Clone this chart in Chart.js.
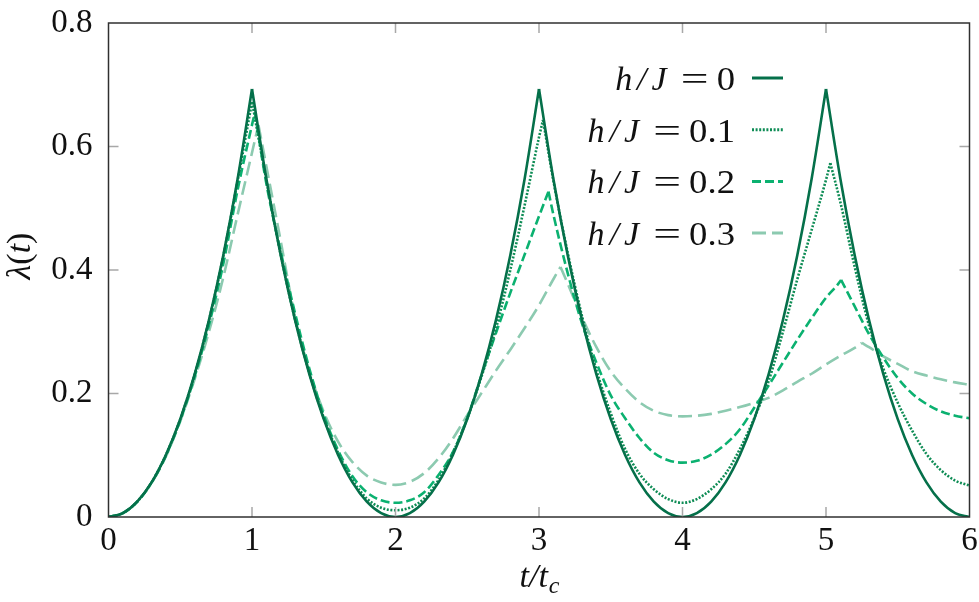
<!DOCTYPE html>
<html>
<head>
<meta charset="utf-8">
<script src="https://cdn.jsdelivr.net/npm/chart.js@4.4.1/dist/chart.umd.min.js"></script>
<style>
  html, body { margin: 0; padding: 0; background: #fff; }
  #wrap { width: 979px; height: 602px; }
</style>
</head>
<body>
<div id="wrap"><canvas id="rateChart" width="979" height="602"></canvas></div>
<script>
// time grid t/t_c
const tGrid = [0, 0.1, 0.2, 0.3, 0.4, 0.5, 0.6, 0.7, 0.8, 0.9, 1.0,
  1.1, 1.2, 1.3, 1.4, 1.5, 1.6, 1.7, 1.8, 1.9, 2.0,
  2.1, 2.2, 2.3, 2.4, 2.5, 2.6, 2.7, 2.8, 2.9, 3.0,
  3.1, 3.2, 3.3, 3.4, 3.5, 3.6, 3.7, 3.8, 3.9, 4.0,
  4.1, 4.2, 4.3, 4.4, 4.5, 4.6, 4.7, 4.8, 4.9, 5.0,
  5.1, 5.2, 5.3, 5.4, 5.5, 5.6, 5.7, 5.8, 5.9, 6.0];

// lambda(t), h/J = 0, 0.1, 0.2, 0.3
const lam00 = [0, .0062, .0248, .0560, .1004, .1584, .2308, .3188, .4239, .5478, .6931,
  .5478, .4239, .3188, .2308, .1584, .1004, .0560, .0248, .0062, 0,
  .0062, .0248, .0560, .1004, .1584, .2308, .3188, .4239, .5478, .6931,
  .5478, .4239, .3188, .2308, .1584, .1004, .0560, .0248, .0062, 0,
  .0062, .0248, .0560, .1004, .1584, .2308, .3188, .4239, .5478, .6931,
  .5478, .4239, .3188, .2308, .1584, .1004, .0560, .0248, .0062, 0];
const lam01 = [0, .0062, .0248, .0560, .1004, .1584, .2306, .3182, .4225, .5445, .672,
  .546, .425, .320, .233, .161, .104, .060, .030, .015, .011,
  .015, .030, .060, .104, .160, .228, .305, .400, .505, .615,
  .545, .428, .325, .238, .168, .110, .070, .045, .029, .023,
  .029, .045, .070, .110, .160, .220, .300, .385, .465, .546,
  .510, .405, .310, .240, .185, .140, .102, .076, .059, .051];
const lam02 = [0, .0062, .0247, .0556, .0995, .1565, .227, .311, .410, .530, .635,
  .540, .430, .330, .240, .165, .108, .066, .040, .027, .023,
  .027, .040, .068, .105, .160, .230, .298, .363, .425, .487,
  .490, .395, .313, .250, .197, .160, .128, .104, .092, .088,
  .091, .101, .118, .142, .177, .213, .250, .287, .322, .355,
  .382, .341, .296, .258, .225, .200, .183, .171, .164, .160];
const lam03 = [0, .0062, .0246, .055, .098, .155, .223, .300, .388, .490, .590,
  .568, .447, .324, .236, .170, .122, .089, .067, .056, .052,
  .057, .071, .095, .127, .165, .201, .237, .271, .306, .343,
  .385, .378, .323, .275, .236, .208, .186, .172, .165, .163,
  .164, .167, .172, .178, .185, .193, .205, .219, .232, .247,
  .261, .274, .275, .260, .248, .236, .229, .223, .218, .214];

// cusps (the peaks move right and drop as h grows)
const cuspT00 = [1, 3, 5];
const cuspL00 = [0.6931, 0.6931, 0.6931];
const cuspT01 = [1, 3.028, 5.03];
const cuspL01 = [0.672, 0.643, 0.573];
const cuspT02 = [1.02, 3.066, 5.105];
const cuspL02 = [0.655, 0.527, 0.384];
const cuspT03 = [1.045, 3.15, 5.25];
const cuspL03 = [0.635, 0.405, 0.282];

const legendValues = ['0', '0.1', '0.2', '0.3'];
const xTicks = [0, 1, 2, 3, 4, 5, 6];
const yTicks = [0, 0.2, 0.4, 0.6, 0.8];

const colors = ['#05704a', '#0e8c55', '#0bb170', '#8ccab0'];
const dashes = [[], [2, 1.6], [9, 4], [14, 6]];

// split a curve at its cusps so every smooth arc is its own piece
function buildPieces(vals, cuspT, cuspL) {
    var pts = [];
    tGrid.forEach(function(t, i) {
        var isCusp = cuspT.some(function(c) { return Math.abs(c - t) < 1e-9; });
        if (!isCusp) pts.push({ x: t, y: vals[i], cusp: false });
    });
    cuspT.forEach(function(t, i) { pts.push({ x: t, y: cuspL[i], cusp: true }); });
    pts.sort(function(a, b) { return a.x - b.x; });

    var pieces = [], cur = [];
    pts.forEach(function(p) {
        cur.push({ x: p.x, y: p.y });
        if (p.cusp) {
            pieces.push(cur);
            cur = [{ x: p.x, y: p.y }];
        }
    });
    if (cur.length > 1) pieces.push(cur);
    return pieces;
}

const FONT = '"Liberation Serif", "DejaVu Serif", serif';

// draw text centred in a fixed-width slot (mimics math spacing)
function slotText(ctx, txt, font, x, w, y, sx) {
    ctx.font = font;
    var tw = ctx.measureText(txt).width * (sx || 1);
    ctx.save();
    ctx.translate(x + (w - tw) / 2, y);
    ctx.scale(sx || 1, 1);
    ctx.fillText(txt, 0, 0);
    ctx.restore();
}

// frame, inward ticks, legend and axis titles drawn gnuplot style
const gnuplotDecor = {
    id: 'gnuplotDecor',
    afterDraw: function(chart) {
        var ctx = chart.ctx;
        var a = chart.chartArea;
        var xs = chart.scales.x, ys = chart.scales.y;
        ctx.save();

        ctx.strokeStyle = '#a8a8a8';
        ctx.lineWidth = 1.5;
        xTicks.forEach(function(v) {
            if (v === 0 || v === 6) return;
            var px = xs.getPixelForValue(v);
            ctx.beginPath();
            ctx.moveTo(px, a.bottom); ctx.lineTo(px, a.bottom - 10);
            ctx.moveTo(px, a.top); ctx.lineTo(px, a.top + 10);
            ctx.stroke();
        });
        yTicks.forEach(function(v) {
            if (v === 0 || v === 0.8) return;
            var py = ys.getPixelForValue(v);
            ctx.beginPath();
            ctx.moveTo(a.left, py); ctx.lineTo(a.left + 10, py);
            ctx.moveTo(a.right, py); ctx.lineTo(a.right - 10, py);
            ctx.stroke();
        });

        ctx.strokeStyle = '#303030';
        ctx.lineWidth = 1.5;
        ctx.strokeRect(a.left, a.top, a.right - a.left, a.bottom - a.top);

        // legend: text right aligned, sample to the right
        var rightEdge = 735, rowY = 78, rowGap = 51.7;
        var itf = 'italic 34px ' + FONT, upf = '34px ' + FONT;
        ctx.textBaseline = 'alphabetic';
        ctx.fillStyle = '#111';
        legendValues.forEach(function(val, i) {
            var y = rowY + i * rowGap;
            var base = y + 12;
            ctx.font = upf;
            var wv = ctx.measureText(val).width * 1.08;
            var wEq = 28, gap1 = 12, gap2 = 8;
            var wh = 20, ws = 16, wj = 19;
            var x0 = rightEdge - (wh + ws + wj + gap1 + wEq + gap2 + wv);
            slotText(ctx, 'h', itf, x0, wh, base);
            slotText(ctx, '/', itf, x0 + wh, ws, base);
            slotText(ctx, 'J', itf, x0 + wh + ws, wj, base);
            var xe = x0 + wh + ws + wj + gap1;
            slotText(ctx, '=', upf, xe, wEq, base, 1.45);
            slotText(ctx, val, upf, xe + wEq + gap2, wv, base, 1.08);

            ctx.strokeStyle = colors[i];
            ctx.lineWidth = 3;
            ctx.setLineDash(dashes[i]);
            ctx.beginPath();
            ctx.moveTo(752, y); ctx.lineTo(783, y);
            ctx.stroke();
            ctx.setLineDash([]);
        });

        // x title t/t_c
        ctx.font = 'italic 34px ' + FONT;
        var main = 't/t';
        var wm = ctx.measureText(main).width;
        ctx.font = 'italic 24px ' + FONT;
        var wsub = ctx.measureText('c').width;
        var cx = (a.left + a.right) / 2 - (wm + wsub) / 2;
        ctx.font = 'italic 34px ' + FONT;
        ctx.fillText(main, cx, 587);
        ctx.font = 'italic 24px ' + FONT;
        ctx.fillText('c', cx + wm + 1, 593);

        // y title lambda(t)
        ctx.translate(30, (a.top + a.bottom) / 2 - 14);
        ctx.rotate(-Math.PI / 2);
        var parts = [['italic', 'λ'], ['', '('], ['italic', 't'], ['', ')']];
        var total = 0;
        parts.forEach(function(p) {
            ctx.font = (p[0] ? p[0] + ' ' : '') + '34px ' + FONT;
            total += ctx.measureText(p[1]).width;
        });
        var px = -total / 2;
        parts.forEach(function(p) {
            ctx.font = (p[0] ? p[0] + ' ' : '') + '34px ' + FONT;
            ctx.fillText(p[1], px, 0);
            px += ctx.measureText(p[1]).width;
        });

        ctx.restore();
    }
};

function drawChart() {
    var ctx = document.getElementById('rateChart').getContext('2d');
    var curves = [
        buildPieces(lam00, cuspT00, cuspL00),
        buildPieces(lam01, cuspT01, cuspL01),
        buildPieces(lam02, cuspT02, cuspL02),
        buildPieces(lam03, cuspT03, cuspL03)
    ];
    var datasets = [];
    curves.forEach(function(pieces, i) {
        pieces.forEach(function(pts) {
            datasets.push({
                label: 'h/J = ' + legendValues[i],
                data: pts,
                borderColor: colors[i],
                borderWidth: 2.6,
                borderDash: dashes[i],
                pointRadius: 0,
                cubicInterpolationMode: 'monotone',
                fill: false
            });
        });
    });

    new Chart(ctx, {
        type: 'line',
        data: { datasets: datasets },
        options: {
            responsive: false,
            animation: false,
            events: [],
            layout: { padding: { top: 23, right: 9.5, bottom: 0, left: 0 } },
            plugins: {
                legend: { display: false },
                tooltip: { enabled: false }
            },
            scales: {
                x: {
                    type: 'linear',
                    min: 0, max: 6,
                    afterFit: function(s) {
                        s.height = 85;
                        s.paddingLeft = 0;
                        s.paddingRight = 0;
                    },
                    grid: { display: false, drawTicks: false },
                    border: { display: false },
                    ticks: {
                        stepSize: 1,
                        padding: 5,
                        color: '#111',
                        font: { family: FONT, size: 33 },
                        callback: function(v) { return String(v); }
                    }
                },
                y: {
                    min: 0, max: 0.8,
                    afterFit: function(s) {
                        s.width = 108.5;
                        s.paddingTop = 0;
                        s.paddingBottom = 0;
                    },
                    grid: { display: false, drawTicks: false },
                    border: { display: false },
                    ticks: {
                        stepSize: 0.2,
                        padding: 16,
                        color: '#111',
                        font: { family: FONT, size: 33 },
                        callback: function(v) { return v === 0 ? '0' : v.toFixed(1); }
                    }
                }
            }
        },
        plugins: [gnuplotDecor]
    });
}

document.addEventListener('DOMContentLoaded', function() {
    var loads = [
        document.fonts.load('33px "Liberation Serif"'),
        document.fonts.load('italic 33px "Liberation Serif"')
    ];
    Promise.all(loads).then(drawChart, drawChart);
});
</script>
</body>
</html>
